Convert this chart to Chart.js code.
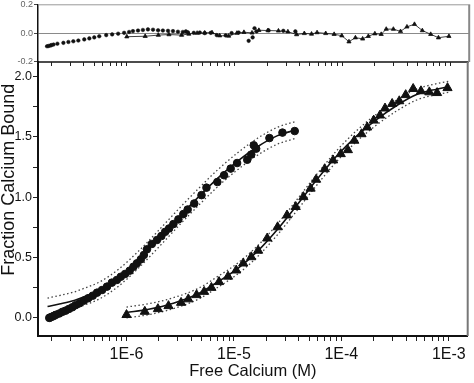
<!DOCTYPE html>
<html>
<head>
<meta charset="utf-8">
<script src="https://cdn.jsdelivr.net/npm/chart.js@4/dist/chart.umd.min.js"></script>
<style>
  html, body { margin: 0; padding: 0; background: #fff; }
  #wrap { position: relative; width: 474px; height: 383px; }
  #wrap canvas { position: absolute; left: 0; top: 0; }
</style>
</head>
<body>
<div id="wrap">
  <canvas id="main" width="474" height="383"></canvas>
  <canvas id="resid" width="474" height="383"></canvas>
</div>
<script>
// ── axes ───────────────────────────────────────────────
const X_MIN = 1.5e-7, X_MAX = 1.5e-3;
const X_DECADES = [1e-7, 1e-6, 1e-5, 1e-4, 1e-3];
const X_MAJOR = [1e-6, 1e-5, 1e-4, 1e-3];
const X_LABELS = ['1E-6', '1E-5', '1E-4', '1E-3'];
const Y_TICKS = [0, 0.25, 0.5, 0.75, 1, 1.25, 1.5, 1.75, 2];
const RES_TICKS = [-0.2, 0, 0.2];

// ── circles (high affinity) ───────────────────────────
const CIRCLE_X = [1.91e-7, 1.96e-7, 2.04e-7, 2.11e-7, 2.19e-7, 2.36e-7, 2.53e-7, 2.71e-7, 2.91e-7, 3.13e-7,
  3.35e-7, 3.65e-7, 4.01e-7, 4.40e-7, 4.85e-7, 5.32e-7, 5.92e-7, 6.58e-7, 7.31e-7, 8.13e-7,
  8.85e-7, 9.70e-7, 1.07e-6, 1.16e-6, 1.25e-6, 1.36e-6, 1.45e-6, 1.55e-6, 1.72e-6, 1.92e-6,
  2.11e-6, 2.29e-6, 2.49e-6, 2.73e-6, 3.04e-6, 3.38e-6, 3.71e-6, 4.27e-6, 4.99e-6, 5.55e-6,
  7.01e-6, 8.09e-6, 9.33e-6, 1.07e-5, 1.33e-5, 1.45e-5, 1.53e-5, 1.61e-5, 2.14e-5, 2.83e-5, 3.68e-5];
const CIRCLE_Y = [0.00, 0.004, 0.011, 0.017, 0.025, 0.036, 0.050, 0.060, 0.074, 0.088,
  0.105, 0.121, 0.143, 0.163, 0.184, 0.209, 0.231, 0.259, 0.292, 0.314,
  0.341, 0.364, 0.391, 0.424, 0.452, 0.485, 0.521, 0.568, 0.612, 0.645,
  0.678, 0.713, 0.741, 0.777, 0.816, 0.860, 0.898, 0.948, 1.017, 1.079,
  1.126, 1.182, 1.237, 1.283, 1.310, 1.353, 1.430, 1.402, 1.490, 1.535, 1.548];
const CIRCLE_FIT_X = [1.84e-7, 2.37e-7, 3.26e-7, 4.03e-7, 5.55e-7, 8.49e-7, 1.30e-6, 1.99e-6,
  3.04e-6, 4.66e-6, 7.12e-6, 1.09e-5, 1.67e-5, 2.55e-5, 3.68e-5];
const CIRCLE_FIT = [0.094, 0.115, 0.145, 0.175, 0.225, 0.335, 0.485, 0.655, 0.83, 1.0, 1.16, 1.30, 1.42, 1.51, 1.555];
const CIRCLE_UPPER = [0.164, 0.185, 0.215, 0.245, 0.295, 0.405, 0.555, 0.725, 0.90, 1.07, 1.23, 1.37, 1.49, 1.58, 1.625];
const CIRCLE_LOWER = [0.024, 0.045, 0.075, 0.105, 0.155, 0.265, 0.415, 0.585, 0.76, 0.93, 1.09, 1.23, 1.35, 1.44, 1.485];

// ── triangles (low affinity) ──────────────────────────
const TRI_X = [1.00e-6, 1.48e-6, 1.96e-6, 2.46e-6, 3.22e-6, 3.76e-6, 4.49e-6, 5.28e-6, 6.17e-6, 7.27e-6,
  8.81e-6, 1.05e-5, 1.22e-5, 1.45e-5, 1.68e-5, 2.04e-5, 2.55e-5, 3.12e-5, 3.76e-5, 4.43e-5,
  5.17e-5, 5.82e-5, 7.00e-5, 8.38e-5, 9.87e-5, 1.15e-4, 1.32e-4, 1.54e-4, 1.74e-4, 2.00e-4,
  2.29e-4, 2.55e-4, 2.97e-4, 3.46e-4, 3.97e-4, 4.66e-4, 5.51e-4, 6.59e-4, 7.78e-4, 9.73e-4];
const TRI_Y = [0.025, 0.052, 0.074, 0.099, 0.126, 0.155, 0.190, 0.217, 0.250, 0.298,
  0.343, 0.394, 0.452, 0.504, 0.558, 0.659, 0.752, 0.850, 0.920, 1.002,
  1.072, 1.146, 1.233, 1.306, 1.358, 1.391, 1.469, 1.523, 1.579, 1.636,
  1.678, 1.736, 1.774, 1.796, 1.847, 1.898, 1.879, 1.870, 1.864, 1.905];
const TRI_FIT_X = [1.00e-6, 1.61e-6, 2.73e-6, 4.66e-6, 7.12e-6, 1.09e-5, 1.67e-5, 2.55e-5, 3.90e-5,
  5.97e-5, 9.14e-5, 1.40e-4, 2.14e-4, 3.28e-4, 5.02e-4, 7.68e-4, 1.00e-3];
const TRI_FIT = [0.045, 0.072, 0.122, 0.200, 0.300, 0.41, 0.555, 0.735, 0.94, 1.15, 1.345, 1.51, 1.645, 1.76, 1.85, 1.895, 1.915];
const TRI_UPPER = [0.09, 0.117, 0.167, 0.245, 0.345, 0.455, 0.60, 0.78, 0.985, 1.195, 1.39, 1.555, 1.69, 1.805, 1.895, 1.94, 1.96];
const TRI_LOWER = [0.0, 0.027, 0.077, 0.155, 0.255, 0.365, 0.51, 0.69, 0.895, 1.105, 1.30, 1.465, 1.60, 1.715, 1.805, 1.85, 1.87];

// ── residuals (top panel) ─────────────────────────────
const RES_CIRCLE_X = [1.82e-7, 1.88e-7, 1.95e-7, 2.00e-7, 2.09e-7, 2.27e-7, 2.58e-7, 2.87e-7, 3.19e-7, 3.55e-7,
  4.03e-7, 4.49e-7, 4.99e-7, 5.55e-7, 6.44e-7, 7.31e-7, 8.31e-7, 9.44e-7, 1.05e-6, 1.14e-6,
  1.27e-6, 1.41e-6, 1.57e-6, 1.75e-6, 1.95e-6, 2.16e-6, 2.41e-6, 2.68e-6, 2.98e-6, 3.31e-6,
  3.53e-6, 3.68e-6, 4.18e-6, 4.75e-6, 5.28e-6, 6.00e-6, 6.82e-6, 8.26e-6, 9.38e-6, 1.09e-5,
  1.35e-5, 1.47e-5, 1.53e-5, 1.60e-5, 2.06e-5, 2.83e-5, 3.66e-5];
const RES_CIRCLE = [-0.09, -0.088, -0.085, -0.082, -0.078, -0.072, -0.066, -0.060, -0.055, -0.050,
  -0.042, -0.035, -0.028, -0.020, -0.012, -0.007, -0.002, 0.004, 0.010, 0.016,
  0.020, 0.024, 0.028, 0.026, 0.022, 0.020, 0.018, 0.016, 0.012, 0.010,
  0.014, 0.008, 0.004, 0.006, 0.002, 0.004, -0.012, -0.014, 0.002, 0.006,
  -0.052, -0.028, 0.036, 0.014, 0.022, 0.018, 0.014];
const RES_TRI = [-0.023, -0.020, -0.012, -0.008, -0.012, -0.004, 0.002, 0.004, 0.006, -0.016,
  -0.018, 0.002, 0.008, 0.004, 0.022, 0.020, 0.018, 0.012, -0.008, 0.0,
  -0.004, 0.006, 0.0, -0.006, -0.016, -0.058, -0.030, -0.038, -0.020, -0.002,
  -0.006, 0.030, 0.030, 0.014, 0.046, 0.064, 0.020, -0.006, -0.030, -0.020];

Chart.defaults.font.family = '"Liberation Sans", Arial, Helvetica, sans-serif';
Chart.defaults.color = '#111';

const INK = '#111', DOTS = '#444';
const pts = (xs, ys) => xs.map((x, i) => ({ x, y: ys[i] }));

const X_TICKS = [];
X_DECADES.forEach((d) => {
  for (let m = 1; m <= 9; m++) {
    const v = m * d;
    if (v >= X_MIN && v <= X_MAX) X_TICKS.push(v);
  }
});
const xLabel = (v) => {
  const i = X_MAJOR.findIndex((m) => Math.abs(v / m - 1) < 1e-6);
  return i < 0 ? '' : X_LABELS[i];
};

// frame edges that Chart.js has no axis for (top / right of each box)
const frame = (edges) => ({
  id: 'frame',
  afterDraw(chart) {
    const { ctx, chartArea: a } = chart;
    ctx.save();
    edges.forEach(([side, color, width]) => {
      ctx.strokeStyle = color;
      ctx.lineWidth = width;
      ctx.beginPath();
      if (side === 'top') { ctx.moveTo(a.left, a.top); ctx.lineTo(a.right + 1, a.top); }
      if (side === 'right') { ctx.moveTo(a.right, a.top); ctx.lineTo(a.right, a.bottom); }
      ctx.stroke();
    });
    ctx.restore();
  },
});

// y title sits a bit above the middle of the plot box in the original
const yTitle = {
  id: 'yTitle',
  afterDraw(chart) {
    const { ctx, chartArea: a } = chart;
    ctx.save();
    ctx.translate(9, a.top + (a.bottom - a.top) * 0.43);
    ctx.rotate(-Math.PI / 2);
    ctx.font = '18px "Liberation Sans", Arial, sans-serif';
    ctx.fillStyle = INK;
    ctx.textAlign = 'center';
    ctx.textBaseline = 'middle';
    ctx.fillText('Fraction Calcium Bound', 0, 0);
    ctx.restore();
  },
};

const line = (data, dotted, order) => ({
  data, showLine: true, pointRadius: 0, borderColor: dotted ? DOTS : INK,
  borderWidth: dotted ? 1.3 : 1.6, borderDash: dotted ? [1.5, 2.5] : [],
  cubicInterpolationMode: 'monotone', order,
});

new Chart(document.getElementById('main'), {
  type: 'scatter',
  data: {
    datasets: [
      line(pts(CIRCLE_FIT_X, CIRCLE_UPPER), true, 2),
      line(pts(CIRCLE_FIT_X, CIRCLE_LOWER), true, 2),
      line(pts(TRI_FIT_X, TRI_UPPER), true, 2),
      line(pts(TRI_FIT_X, TRI_LOWER), true, 2),
      line(pts(CIRCLE_FIT_X, CIRCLE_FIT), false, 1),
      line(pts(TRI_FIT_X, TRI_FIT), false, 1),
      { data: pts(CIRCLE_X, CIRCLE_Y), pointStyle: 'circle', pointRadius: 3.8, borderWidth: 1,
        backgroundColor: INK, borderColor: INK, order: 0 },
      { data: pts(TRI_X, TRI_Y), pointStyle: 'triangle', pointRadius: 5.3, borderWidth: 1,
        backgroundColor: INK, borderColor: INK, order: 0 },
    ],
  },
  options: {
    responsive: false, animation: false,
    layout: { padding: { top: 62, right: 3, left: 0, bottom: 0 } },
    plugins: { legend: { display: false }, tooltip: { enabled: false } },
    scales: {
      x: {
        type: 'logarithmic', min: X_MIN, max: X_MAX,
        afterBuildTicks: (s) => { s.ticks = X_TICKS.map((v) => ({ value: v })); },
        afterFit: (s) => { s.height = 47; },
        grid: { drawOnChartArea: false, tickLength: 5, tickColor: '#222' },
        border: { color: INK, width: 2 },
        ticks: { autoSkip: false, minRotation: 0, maxRotation: 0, padding: 4, color: INK,
          font: { size: 16 }, callback: (v) => xLabel(v) },
        title: { display: true, text: 'Free Calcium (M)', color: INK, font: { size: 16.5 },
          padding: { top: 0, bottom: 2 } },
      },
      y: {
        min: -0.15, max: 2.12,
        afterBuildTicks: (s) => { s.ticks = Y_TICKS.map((v) => ({ value: v })); },
        afterFit: (s) => { s.width = 38; },
        grid: { drawOnChartArea: false, tickLength: 5, tickColor: '#222' },
        border: { color: INK, width: 2 },
        ticks: { padding: 1, color: INK, font: { size: 12.5 },
          callback: (v) => (v % 0.5 === 0 ? v.toFixed(1) : '') },
      },
    },
  },
  plugins: [frame([['top', INK, 1.5], ['right', '#777', 2]]), yTitle],
});

new Chart(document.getElementById('resid'), {
  type: 'scatter',
  data: {
    datasets: [
      { data: pts(RES_CIRCLE_X, RES_CIRCLE), pointStyle: 'circle', pointRadius: 1.8, borderWidth: 0.5,
        backgroundColor: INK, borderColor: INK },
      { data: pts(TRI_X, RES_TRI), showLine: true, borderColor: INK, borderWidth: 0.8,
        pointStyle: 'triangle', pointRadius: 2.4, borderWidth: 0.8, backgroundColor: INK, pointBorderColor: INK },
    ],
  },
  options: {
    responsive: false, animation: false,
    layout: { padding: { top: 4, right: 3, left: 0, bottom: 317 } },
    plugins: { legend: { display: false }, tooltip: { enabled: false } },
    scales: {
      x: {
        type: 'logarithmic', min: X_MIN, max: X_MAX,
        afterBuildTicks: (s) => { s.ticks = X_TICKS.map((v) => ({ value: v })); },
        afterFit: (s) => { s.height = 4; },
        grid: { drawOnChartArea: false, tickLength: 4, tickColor: '#222' },
        border: { display: false },
        ticks: { display: false, autoSkip: false, maxRotation: 0 },
      },
      y: {
        min: -0.2, max: 0.2,
        afterBuildTicks: (s) => { s.ticks = RES_TICKS.map((v) => ({ value: v })); },
        afterFit: (s) => { s.width = 38; },
        grid: { color: (c) => (c.tick && c.tick.value === 0 ? '#8a8a8a' : 'rgba(0,0,0,0)'),
          tickColor: '#444', tickLength: 4 },
        border: { color: INK, width: 1.5 },
        ticks: { padding: 1, color: '#666', font: { size: 9, lineHeight: 0.75 },
          callback: (v) => v.toFixed(1) },
      },
    },
  },
  plugins: [frame([['top', '#999', 1], ['right', '#888', 2]])],
});
</script>
</body>
</html>
